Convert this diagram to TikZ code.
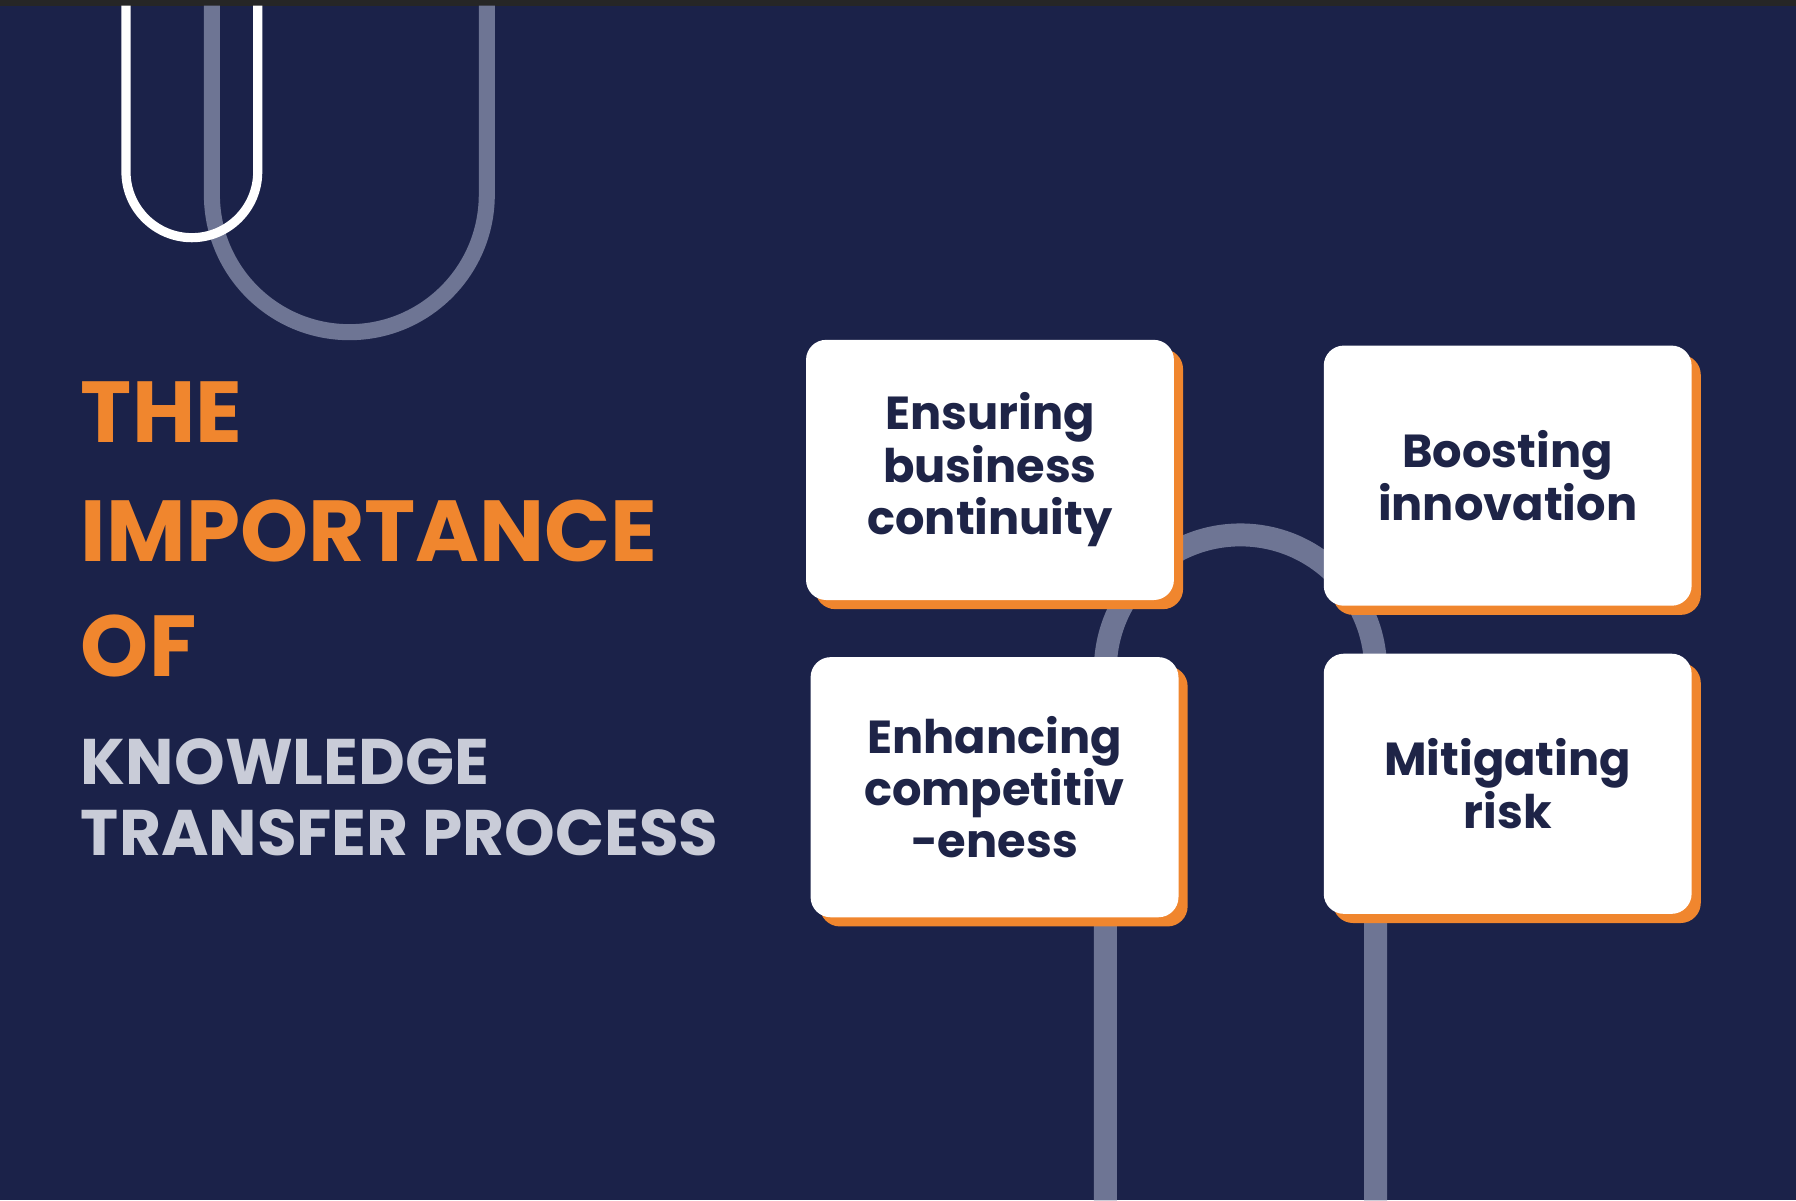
\documentclass[tikz,border=0pt]{standalone}
\usepackage{fontspec}
\setmainfont{Poppins}
\usetikzlibrary{positioning}
\definecolor{navy}{HTML}{1B2249}
\definecolor{deep}{HTML}{1E2447}
\definecolor{orng}{HTML}{F0862E}
\definecolor{clipgray}{HTML}{6E7594}
\definecolor{pale}{HTML}{C9CCD8}

\begin{document}
\begin{tikzpicture}[x=0.01cm, y=-0.01cm,
  card/.style={fill=white, rounded corners=5pt, minimum width=3.21cm, minimum height=2.27cm,
    align=center, font=\fontsize{11.5}{13}\selectfont\bfseries, text=deep, anchor=north west},
  shade/.style={fill=orng, rounded corners=5pt, minimum width=3.21cm, minimum height=2.27cm, anchor=north west},
  head/.style={anchor=base west, text=orng, font=\fontsize{21.5}{26}\selectfont\bfseries, inner sep=0pt},
  sub/.style={anchor=base west, text=pale, font=\fontsize{16}{20}\selectfont\bfseries, inner sep=0pt}]
  \useasboundingbox (0,0) rectangle (1568,1048);
  \fill[black!85] (0,0) rectangle (1568,1048);
  \fill[navy] (0,5) rectangle (1568,1048);
  % clips on the top left
  \draw[clipgray, line width=0.14cm] (185,5) -- (185,170) arc[start angle=180, end angle=0, radius=120] -- (425,5);
  \draw[white, line width=0.08cm] (110,5) -- (110,150) arc[start angle=180, end angle=0, radius=57.5] -- (225,5);
  % clip behind the cards
  \draw[clipgray, line width=0.2cm] (965,1048) -- (965,585) arc[start angle=180, end angle=360, radius=118] -- (1201,1048);

  \node[head] (the) at (70,386) {THE};
  \node[head] (imp) at (70,490) {IMPORTANCE};
  \node[head] (of) at (70,591) {OF};
  \node[sub] (know) at (70,685) {KNOWLEDGE};
  \node[sub] (tran) at (70,747) {TRANSFER PROCESS};

  \node[shade] at (711,304) {};
  \node[card] (cont) at (703,296) {Ensuring\\business\\continuity};
  \node[shade] at (1163,309) {};
  \node[card] (inno) at (1155,301) {Boosting\\innovation};
  \node[shade] at (715,581) {};
  \node[card] (comp) at (707,573) {Enhancing\\competitiv\\-eness};
  \node[shade] at (1163,578) {};
  \node[card] (risk) at (1155,570) {Mitigating\\risk};
\end{tikzpicture}
\end{document}
